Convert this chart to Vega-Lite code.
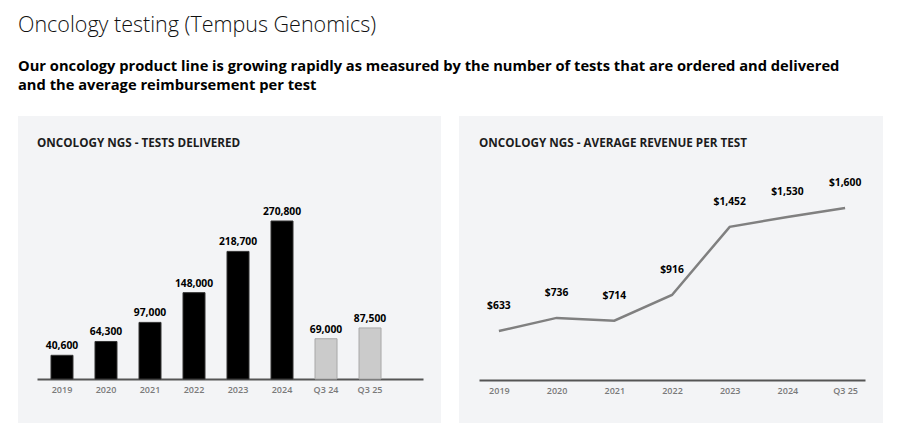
{
  "$schema": "https://vega.github.io/schema/vega-lite/v6.json",
  "padding": {"left": 18, "top": 15, "right": 0, "bottom": 0},
  "background": "#ffffff",
  "config": {
    "font": "Open Sans",
    "view": {"stroke": null},
    "concat": {"spacing": 18}
  },
  "title": {
    "text": "Oncology testing (Tempus Genomics)",
    "subtitle": ["Our oncology product line is growing rapidly as measured by the number of tests that are ordered and delivered", "and the average reimbursement per test"],
    "anchor": "start",
    "font": "Open Sans",
    "fontSize": 21.5,
    "fontWeight": 300,
    "color": "#111111",
    "subtitleFont": "Open Sans",
    "subtitleFontSize": 14.7,
    "subtitleFontWeight": "bold",
    "subtitleColor": "#000000",
    "subtitlePadding": 22,
    "subtitleLineHeight": 19.5,
    "offset": 23
  },
  "hconcat": [
    {
      "width": 423,
      "height": 307,
      "view": {"fill": "#f3f4f6", "stroke": null},
      "title": {"text": "ONCOLOGY NGS - TESTS DELIVERED", "anchor": "start", "frame": "group", "dx": 19, "offset": -34, "font": "Open Sans", "fontSize": 11.7, "fontWeight": "bold", "color": "#1c1c1c"},
      "data": {"values": [
        {"period": "2019", "tests": 40600, "kind": "Annual"},
        {"period": "2020", "tests": 64300, "kind": "Annual"},
        {"period": "2021", "tests": 97000, "kind": "Annual"},
        {"period": "2022", "tests": 148000, "kind": "Annual"},
        {"period": "2023", "tests": 218700, "kind": "Annual"},
        {"period": "2024", "tests": 270800, "kind": "Annual"},
        {"period": "Q3 24", "tests": 69000, "kind": "Quarter"},
        {"period": "Q3 25", "tests": 87500, "kind": "Quarter"}
      ]},
      "encoding": {
        "x": {"field": "period", "type": "nominal", "sort": null,
          "scale": {"range": [19, 405], "paddingInner": 0.5, "paddingOuter": 0.636, "align": 0.25},
          "axis": {"title": null, "offset": -44, "labelAngle": 0, "ticks": false, "domainColor": "#555555", "domainWidth": 2, "labelPadding": 6, "labelFont": "Open Sans", "labelFontSize": 9, "labelFontWeight": 600, "labelColor": "#7a7a7a"}},
        "y": {"field": "tests", "type": "quantitative", "scale": {"domain": [0, 270800], "range": [263, 105], "nice": false, "zero": true}, "axis": null}
      },
      "layer": [
        {"mark": {"type": "bar", "strokeWidth": 1},
          "encoding": {
            "color": {"field": "kind", "type": "nominal", "scale": {"domain": ["Annual", "Quarter"], "range": ["#000000", "#cbcbcb"]}, "legend": null},
            "stroke": {"field": "kind", "type": "nominal", "scale": {"domain": ["Annual", "Quarter"], "range": ["#333333", "#a8a8a8"]}, "legend": null}
          }},
        {"mark": {"type": "text", "baseline": "bottom", "dy": -4, "font": "Open Sans", "fontSize": 10.3, "fontWeight": "bold", "color": "#000000"},
          "encoding": {"text": {"field": "tests", "type": "quantitative", "format": ","}}}
      ]
    },
    {
      "width": 424,
      "height": 307,
      "view": {"fill": "#f3f4f6", "stroke": null},
      "title": {"text": "ONCOLOGY NGS - AVERAGE REVENUE PER TEST", "anchor": "start", "frame": "group", "dx": 20, "offset": -34, "font": "Open Sans", "fontSize": 11.7, "fontWeight": "bold", "color": "#1c1c1c"},
      "data": {"values": [
        {"period": "2019", "revenue": 633},
        {"period": "2020", "revenue": 736},
        {"period": "2021", "revenue": 714},
        {"period": "2022", "revenue": 916},
        {"period": "2023", "revenue": 1452},
        {"period": "2024", "revenue": 1530},
        {"period": "Q3 25", "revenue": 1600}
      ]},
      "encoding": {
        "x": {"field": "period", "type": "ordinal", "sort": null,
          "scale": {"type": "point", "range": [20, 406], "padding": 0.345},
          "axis": {"title": null, "offset": -43, "labelAngle": 0, "ticks": false, "domainColor": "#555555", "domainWidth": 2, "labelPadding": 6, "labelFont": "Open Sans", "labelFontSize": 9, "labelFontWeight": 600, "labelColor": "#7a7a7a"}},
        "y": {"field": "revenue", "type": "quantitative", "scale": {"domain": [633, 1600], "range": [215, 92], "nice": false, "zero": false}, "axis": null}
      },
      "layer": [
        {"mark": {"type": "line", "color": "#808080", "strokeWidth": 2.5}},
        {"mark": {"type": "text", "baseline": "middle", "dy": -25, "font": "Open Sans", "fontSize": 10.3, "fontWeight": "bold", "color": "#000000"},
          "encoding": {"text": {"field": "revenue", "type": "quantitative", "format": "$,.0f"}}}
      ]
    }
  ]
}
